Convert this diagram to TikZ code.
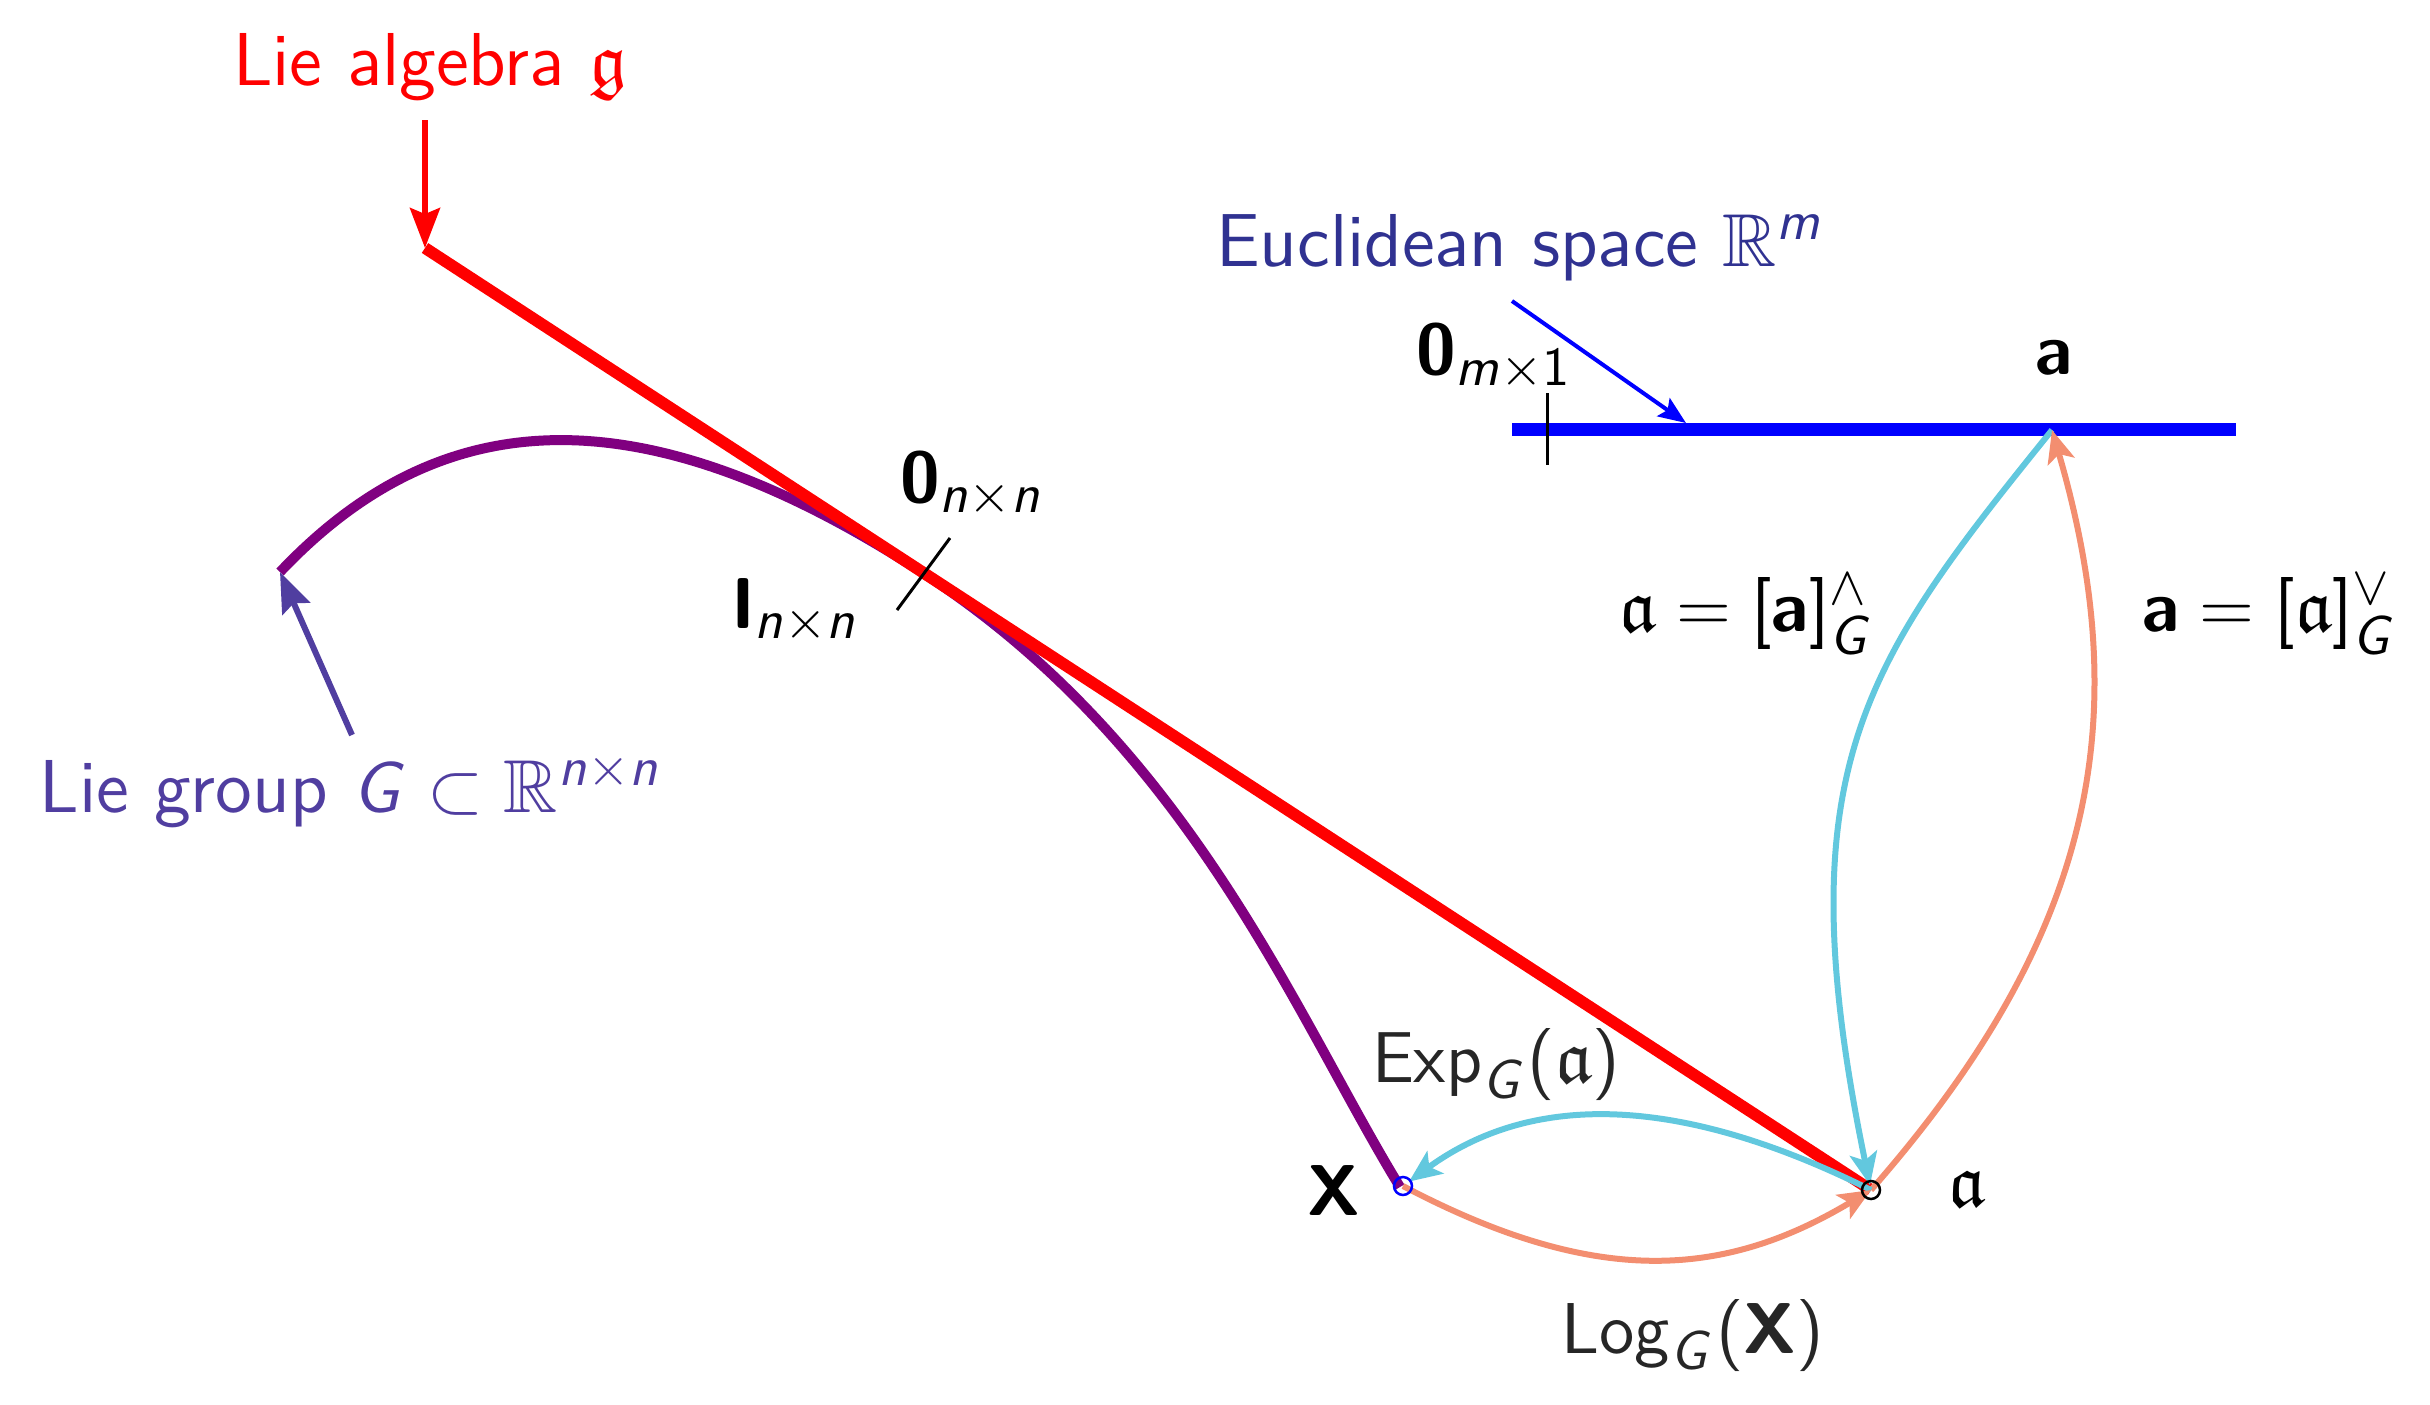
\documentclass[tikz,border=0pt]{standalone}
\usepackage{amsmath,amssymb}
\usetikzlibrary{arrows.meta}
\DeclareSymbolFont{sfletters}{OT1}{cmss}{m}{sl}
\SetSymbolFont{operators}{normal}{OT1}{cmss}{m}{n}
\DeclareMathAlphabet{\mathbf}{OT1}{cmss}{bx}{n}
\DeclareMathSymbol{G}{\mathalpha}{sfletters}{`G}
\DeclareMathSymbol{m}{\mathalpha}{sfletters}{`m}
\DeclareMathSymbol{n}{\mathalpha}{sfletters}{`n}
\definecolor{liered}{RGB}{255,0,0}
\definecolor{grpcol}{RGB}{128,0,128}
\definecolor{grptext}{RGB}{80,62,160}
\definecolor{euctext}{RGB}{48,50,145}
\definecolor{eucline}{RGB}{0,0,255}
\definecolor{hatcol}{RGB}{98,200,222}
\definecolor{veecol}{RGB}{243,142,112}
\begin{document}
\begin{tikzpicture}[x=0.2pt,y=-0.2pt,
  lbl/.style={inner sep=0pt, anchor=base west, font=\fontsize{15}{18}\selectfont\sffamily},
  thinarrow/.style={-{Stealth[length=8pt,width=6pt,inset=1.2pt]}},
  maparrow/.style={line width=1.2pt,-{Stealth[length=6.5pt,width=5.5pt,inset=1.5pt]}},
  tickmark/.style={line width=0.6pt, black},
  dotmark/.style={circle, draw, line width=0.5pt, inner sep=0pt, minimum size=3.6pt}
]
\useasboundingbox (0,0) rectangle (2430,1404);
% key points
\coordinate (gstart) at (425,248);
\coordinate (galgtail) at (425,120);
\coordinate (frakpt) at (1871,1190);
\coordinate (Ipt) at (923,573);
\coordinate (Xpt) at (1403,1186);
\coordinate (apt) at (2052,430);
\coordinate (eleft) at (1512,429);
\coordinate (eright) at (2236,429);
\coordinate (zeropt) at (1547,429);
\coordinate (gmstart) at (280,572);
\coordinate (grptail) at (352,735);
\coordinate (euctail) at (1512,301);
\coordinate (euchead) at (1686,423);

% Lie group curve
\draw[grpcol, line width=2pt] (gmstart) .. controls (439,404) and (638,388) .. (Ipt)
  .. controls (1191,747) and (1296,1017) .. (1400,1187);
% Lie algebra line
\draw[liered, line width=2.35pt] (gstart) -- (frakpt);
\draw[tickmark] (Ipt) ++(27,-35) -- ++(-53,72);

% Euclidean space
\draw[eucline, line width=2.6pt] (eleft) -- (eright);
\draw[tickmark] (zeropt) ++(0,-36) -- ++(0,72);

% labels
\node[lbl, text=liered] (galg) at (232,85) {Lie algebra $\mathfrak{g}$};
\draw[liered, line width=1.1pt, thinarrow] (galgtail) -- (gstart);
\node[lbl, text=euctext] (euc) at (1215,266) {Euclidean space $\mathbb{R}^m$};
\draw[eucline, line width=0.8pt, -{Stealth[length=5.5pt,width=4.4pt,inset=1pt]}] (euctail) -- (euchead);
\node[lbl, text=grptext] (grp) at (39,812) {Lie group $G\subset\mathbb{R}^{n\times n}$};
\draw[grptext, line width=1.2pt, thinarrow] (grptail) -- (gmstart);

\node[lbl] (zeronn) at (899,502) {$\mathbf{0}_{n\times n}$};
\node[lbl] (Inn) at (730,628) {$\mathbf{I}_{n\times n}$};
\node[lbl] (zerom) at (1415,374) {$\mathbf{0}_{m\times 1}$};
\node[lbl, anchor=base] (alab) at (2054,374) {$\mathbf{a}$};
\node[lbl] (hatlab) at (1618,631) {$\mathfrak{a}=[\mathbf{a}]^{\wedge}_{G}$};
\node[lbl] (veelab) at (2141,631) {$\mathbf{a}=[\mathfrak{a}]^{\vee}_{G}$};
\node[lbl, text=black!85] (explab) at (1371,1082) {$\operatorname{Exp}_G(\mathfrak{a})$};
\node[lbl, text=black!85] (loglab) at (1560,1353) {$\operatorname{Log}_G(\mathbf{X})$};
\node[lbl] (Xlab) at (1306,1215) {$\mathbf{X}$};
\node[lbl] (fraklab) at (1947,1206) {$\mathfrak{a}$};

% maps
\draw[hatcol, maparrow, shorten >=1pt] (apt) .. controls +(-189,234) and +(-87,-420) .. (frakpt);
\draw[veecol, maparrow] (frakpt) .. controls +(224,-255) and +(84,288) .. (apt);
\draw[hatcol, maparrow, shorten >=1.5pt] (frakpt) .. controls +(-190,-95) and +(130,-95) .. (Xpt);
\draw[veecol, maparrow] (Xpt) .. controls +(190,100) and +(-150,90) .. (frakpt);

% points
\node[dotmark, draw=blue] (Xdot) at (Xpt) {};
\node[dotmark, draw=black] (frakdot) at (frakpt) {};
\end{tikzpicture}
\end{document}
